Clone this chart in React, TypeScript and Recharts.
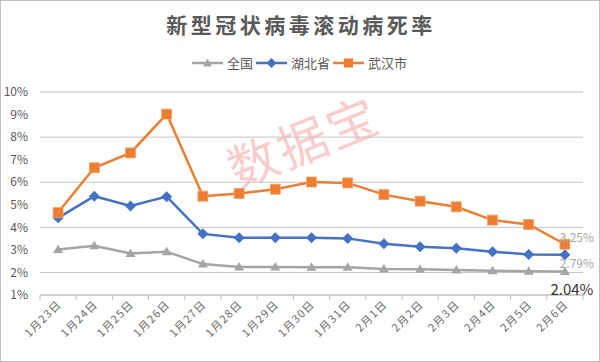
import React from 'react';
import { LineChart, Line, XAxis, YAxis, CartesianGrid } from 'recharts';

const categories = ['1月23日', '1月24日', '1月25日', '1月26日', '1月27日', '1月28日', '1月29日', '1月30日', '1月31日', '2月1日', '2月2日', '2月3日', '2月4日', '2月5日', '2月6日'];
const nationalRate = [3.02, 3.18, 2.84, 2.92, 2.37, 2.24, 2.24, 2.23, 2.23, 2.15, 2.14, 2.11, 2.07, 2.05, 2.04];
const hubeiRate = [4.42, 5.38, 4.95, 5.36, 3.71, 3.54, 3.54, 3.54, 3.51, 3.27, 3.14, 3.07, 2.92, 2.8, 2.79];
const wuhanRate = [4.66, 6.64, 7.3, 9.02, 5.38, 5.5, 5.69, 6.01, 5.97, 5.45, 5.16, 4.91, 4.32, 4.13, 3.25];
const yTicks = [1, 2, 3, 4, 5, 6, 7, 8, 9, 10];
const seriesNames = ['全国', '湖北省', '武汉市'];
const lastLabels = ['2.04%', '2.79%', '3.25%'];

const data = categories.map((c, i) => ({
  date: c,
  national: nationalRate[i],
  hubei: hubeiRate[i],
  wuhan: wuhanRate[i],
}));

const GRAY = '#a5a5a5';
const BLUE = '#4472c4';
const ORANGE = '#ed7d31';
const TEXT = '#595959';
const FONT = '"Noto Sans CJK SC", "Noto Sans", sans-serif';
const LAST = categories.length - 1;

const XTick = (props: any) => {
  const { x, y, payload, index } = props;
  const off = payload && payload.offset ? payload.offset : 18.1;
  const tx = x + 4;
  const ty = y + 10;
  return (
    <g>
      <line x1={x - off} x2={x - off} y1={y} y2={y + 5} stroke="#bfbfbf" strokeWidth={1} />
      {index === LAST && <line x1={x + off} x2={x + off} y1={y} y2={y + 5} stroke="#bfbfbf" strokeWidth={1} />}
      <text
        x={tx}
        y={ty}
        textAnchor="end"
        fill="#6a6a6a"
        fontSize={11}
        fontFamily={FONT}
        letterSpacing={1.2}
        transform={`rotate(-45, ${tx}, ${ty})`}
      >
        {payload.value}
      </text>
    </g>
  );
};

const triangle = (props: any) => {
  const { cx, cy, index } = props;
  return <polygon key={`t-${index}`} points={`${cx},${cy - 5} ${cx - 5},${cy + 3.5} ${cx + 5},${cy + 3.5}`} fill={GRAY} />;
};
const diamond = (props: any) => {
  const { cx, cy, index } = props;
  return <polygon key={`d-${index}`} points={`${cx},${cy - 5.5} ${cx + 5.5},${cy} ${cx},${cy + 5.5} ${cx - 5.5},${cy}`} fill={BLUE} />;
};
const square = (props: any) => {
  const { cx, cy, index } = props;
  return <rect key={`s-${index}`} x={cx - 5} y={cy - 5} width={10} height={10} fill={ORANGE} stroke="#f4a46c" strokeWidth={0.8} />;
};

const makeLabel = (text: string, dx: number, dy: number, color: string, size: number) => (props: any) => {
  const { x, y, index } = props;
  if (index !== LAST) return null;
  return (
    <text key={`l-${text}`} x={x + dx} y={y + dy} textAnchor="middle" dominantBaseline="central" fill={color} fontSize={size} fontFamily={FONT}>
      {text}
    </text>
  );
};

const LegendItem = ({ color, name, marker }: { color: string; name: string; marker: string }) => (
  <div style={{ display: 'flex', alignItems: 'center', marginRight: 3 }}>
    <svg width={31} height={12} style={{ marginRight: 4 }}>
      <line x1={0} x2={31} y1={6} y2={6} stroke={color} strokeWidth={2.5} />
      {marker === 't' && <polygon points="15.5,1.5 11,9.5 20,9.5" fill={color} />}
      {marker === 'd' && <polygon points="15.5,1 20.5,6 15.5,11 10.5,6" fill={color} />}
      {marker === 's' && <rect x={11} y={1.5} width={9} height={9} fill={color} />}
    </svg>
    <span style={{ fontSize: 13, color: TEXT, fontFamily: FONT }}>{name}</span>
  </div>
);

export default function App() {
  return (
    <div style={{ position: 'absolute', left: 0, top: 0, width: 600, height: 362, boxSizing: 'border-box', border: '1px solid #bfbfbf', background: '#fff', overflow: 'hidden' }}>
      <div style={{ position: 'absolute', left: 0, top: 9, width: 600, textAlign: 'center', fontSize: 21, fontWeight: 700, color: TEXT, fontFamily: FONT, letterSpacing: 3.5, lineHeight: '28px' }}>
        新型冠状病毒滚动病死率
      </div>
      <div style={{ position: 'absolute', left: 0, top: 53, width: 600, display: 'flex', justifyContent: 'center', lineHeight: '18px' }}>
        <LegendItem color={GRAY} name={seriesNames[0]} marker="t" />
        <LegendItem color={BLUE} name={seriesNames[1]} marker="d" />
        <LegendItem color={ORANGE} name={seriesNames[2]} marker="s" />
      </div>
      <div style={{ position: 'absolute', left: 222, top: 110, fontSize: 50, color: 'rgba(245, 120, 120, 0.38)', fontFamily: FONT, transform: 'rotate(-22deg)', letterSpacing: 3, lineHeight: '56px' }}>
        数据宝
      </div>
      <div style={{ position: 'absolute', left: -1, top: -1 }}>
        <LineChart width={600} height={362} data={data} margin={{ top: 92, right: 17, bottom: 0, left: 0 }}>
          <CartesianGrid vertical={false} stroke="#c4c4c4" strokeWidth={1} />
          <XAxis
            dataKey="date"
            scale="band"
            interval={0}
            height={67}
            tickSize={0}
            tickMargin={0}
            tickLine={false}
            axisLine={{ stroke: '#bfbfbf' }}
            tick={<XTick />}
          />
          <YAxis
            width={40}
            domain={[1, 10]}
            ticks={yTicks}
            tickFormatter={(v: number) => `${v}%`}
            axisLine={false}
            tickLine={false}
            tickMargin={6}
            tick={{ fill: TEXT, fontSize: 12, fontFamily: FONT }}
          />
          <Line dataKey="national" stroke={GRAY} strokeWidth={2.5} dot={triangle} activeDot={false} isAnimationActive={false} label={makeLabel(lastLabels[0], 7, 17, '#333333', 15)} />
          <Line dataKey="hubei" stroke={BLUE} strokeWidth={2.5} dot={diamond} activeDot={false} isAnimationActive={false} label={makeLabel(lastLabels[1], 12, 8, GRAY, 12)} />
          <Line dataKey="wuhan" stroke={ORANGE} strokeWidth={2.5} dot={square} activeDot={false} isAnimationActive={false} label={makeLabel(lastLabels[2], 12, -8, GRAY, 12)} />
        </LineChart>
      </div>
    </div>
  );
}
